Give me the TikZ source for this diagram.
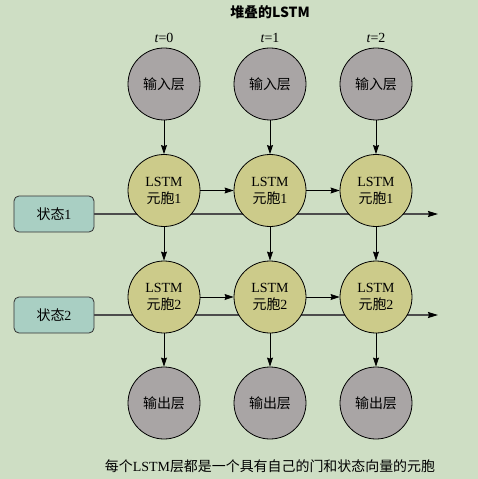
\documentclass[tikz,border=0pt]{standalone}
\usepackage{fontspec}
\setmainfont{Liberation Serif}
\newfontfamily\cjk{Noto Sans CJK SC}
\usetikzlibrary{arrows.meta}

\definecolor{bggreen}{RGB}{206,222,196}
\definecolor{layergray}{RGB}{169,165,165}
\definecolor{cellyellow}{RGB}{204,203,138}
\definecolor{stateteal}{RGB}{169,207,195}

\begin{document}
\begin{tikzpicture}[x=1bp, y=-1bp,
        layer/.style={circle, draw=black, fill=layergray, minimum size=72bp, inner sep=0pt, line width=0.8bp, font=\fontsize{14}{17}\selectfont},
        cell/.style={layer, fill=cellyellow, align=center},
        statebox/.style={draw=black!80, fill=stateteal, rounded corners=5bp, minimum width=80bp, minimum height=36bp, line width=0.8bp, font=\fontsize{14}{17}\selectfont},
        link/.style={-{Stealth[length=9bp, width=6bp, inset=1bp]}, line width=0.8bp},
        stateline/.style={-{Stealth[length=10bp, width=6bp, inset=1bp, color=black]}, draw=black!70, line width=1.2bp}]

        \fill[bggreen] (0,0) rectangle (478,479);

        % title and time steps
        \node (title) at (270,12) {\fontsize{14}{16}\selectfont\cjk\bfseries 堆叠的LSTM};
        \node[font=\fontsize{14}{17}\selectfont] (t0) at (164,38) {\itshape t\upshape =0};
        \node[font=\fontsize{14}{17}\selectfont] (t1) at (270,38) {\itshape t\upshape =1};
        \node[font=\fontsize{14}{17}\selectfont] (t2) at (376,38) {\itshape t\upshape =2};

        % states, with their lines running behind the cells
        \node[statebox] (s1) at (54,214) {{\cjk 状态}1};
        \node[statebox] (s2) at (54,315) {{\cjk 状态}2};
        \coordinate (s1end) at (438,214);
        \coordinate (s2end) at (438,315);
        \draw[stateline] (s1.east) -- (s1end);
        \draw[stateline] (s2.east) -- (s2end);

        % input layer
        \node[layer] (in0) at (164,84) {\cjk 输入层};
        \node[layer] (in1) at (270,84) {\cjk 输入层};
        \node[layer] (in2) at (376,84) {\cjk 输入层};

        % first LSTM layer
        \node[cell] (ca0) at (164,190.5) {LSTM\\{\cjk 元胞}1};
        \node[cell] (ca1) at (270,190.5) {LSTM\\{\cjk 元胞}1};
        \node[cell] (ca2) at (376,190.5) {LSTM\\{\cjk 元胞}1};

        % second LSTM layer
        \node[cell] (cb0) at (164,297) {LSTM\\{\cjk 元胞}2};
        \node[cell] (cb1) at (270,297) {LSTM\\{\cjk 元胞}2};
        \node[cell] (cb2) at (376,297) {LSTM\\{\cjk 元胞}2};

        % output layer
        \node[layer] (out0) at (164,403) {\cjk 输出层};
        \node[layer] (out1) at (270,403) {\cjk 输出层};
        \node[layer] (out2) at (376,403) {\cjk 输出层};

        \draw[link] (in0) -- (ca0);
        \draw[link] (in1) -- (ca1);
        \draw[link] (in2) -- (ca2);
        \draw[link] (ca0) -- (cb0);
        \draw[link] (ca1) -- (cb1);
        \draw[link] (ca2) -- (cb2);
        \draw[link] (cb0) -- (out0);
        \draw[link] (cb1) -- (out1);
        \draw[link] (cb2) -- (out2);

        \draw[link] (ca0) -- (ca1);
        \draw[link] (ca1) -- (ca2);
        \draw[link] (cb0) -- (cb1);
        \draw[link] (cb1) -- (cb2);

        \node[font=\fontsize{14}{17}\selectfont] (caption) at (270,466) {{\cjk 每个}LSTM{\cjk 层都是一个具有自己的门和状态向量的元胞}};
    \end{tikzpicture}
\end{document}
